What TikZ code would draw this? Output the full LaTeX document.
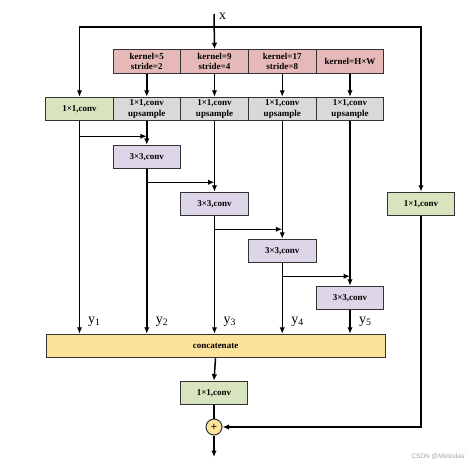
\documentclass[tikz,border=0pt]{standalone}
\usepackage{fontspec}
\setmainfont{Liberation Serif}
\newfontfamily\wmfont{Liberation Sans}
\usetikzlibrary{arrows.meta}
\definecolor{poolcol}{HTML}{E6B9B8}
\definecolor{upcol}{HTML}{D9D9D9}
\definecolor{convcol}{HTML}{D7E4BD}
\definecolor{cvcol}{HTML}{DCD6E8}
\definecolor{catcol}{HTML}{FCE39A}

\begin{document}
\begin{tikzpicture}[x=1pt,y=-1pt,
	box/.style={draw=black!80,line width=1pt,minimum width=67.5pt,minimum height=23.5pt,inner sep=0pt,align=center,font=\bfseries\fontsize{9}{10.5}\selectfont},
	arr/.style={-{Latex[length=6.5pt,width=5.5pt]},line width=1.5pt},
	ylab/.style={anchor=west,inner sep=0pt,font=\fontsize{14}{14}\selectfont}]
\useasboundingbox (0,0) rectangle (474,467);
% input
\coordinate (in) at (214,14);
\node[ylab] (xlab) at (219,16) {x};
\coordinate (split) at (214,27);
% pooling branches
\foreach \txt [count=\i] in {kernel=5\\stride=2, kernel=9\\stride=4, kernel=17\\stride=8, kernel=H×W}{
	\node[box,fill=poolcol] (pool\i) at ({79+67.75*\i},61.5) {\txt};
	\node[box,fill=upcol] (up\i) at ({79+67.75*\i},109) {1×1,conv\\upsample};
	\node[box,fill=cvcol] (cv\i) at ({79+67.75*\i},{157+47*(\i-1)}) {3×3,conv};
	}
\node[box,fill=convcol] (c1) at (79.5,109) {1×1,conv};
\node[box,fill=convcol] (cr) at (421,204) {1×1,conv};
\node[box,fill=catcol,minimum width=339pt] (cat) at (215.5,346) {concatenate};
\node[box,fill=convcol] (cf) at (214,393) {1×1,conv};
\node[draw=black!80,line width=1pt,circle,fill=catcol,minimum size=16pt,inner sep=0pt,font=\bfseries\fontsize{11}{11}\selectfont] (sum) at (214,427) {+};
\coordinate (out) at (214,457);

% connectors
\draw[arr] (in) -- (pool2.north);
\draw[arr] (split) -| (c1.north);
\draw[arr] (split) -| (cr.north);
\foreach \i in {1,...,4}{
	\draw[arr] (pool\i.south) -- (up\i.north);
	\draw[arr] (up\i.south) -- (cv\i.north);
	\draw[arr] (cv\i.south) -- (cv\i.south |- cat.north);
	}
\draw[arr] (c1.south) -- (c1.south |- cat.north);
\draw[arr] ([yshift=-15pt]c1.south) -- ([yshift=-15pt]c1.south -| up1);
\foreach \i [evaluate=\i as \j using int(\i+1)] in {1,2,3}
	\draw[arr] ([yshift=-13pt]cv\i.south) -- ([yshift=-13pt]cv\i.south -| up\j);
\draw[arr] (cat.south) -- (cf.north);
\draw[line width=1.5pt] (cf.south) -- (sum.north);
\draw[arr] (cr.south) |- (sum.east);
\draw[arr] (sum.south) -- (out);

% outputs
\node[ylab] (y1) at (88,322) {y\textsubscript{1}};
\foreach \i [evaluate=\i as \k using int(\i+1)] in {1,...,4}
	\node[ylab] (y\k) at ([xshift=9pt]cv\i.south |- 0,322) {y\textsubscript{\k}};
\node[anchor=east,text=black!35,font=\wmfont\fontsize{6.5}{7}\selectfont] (mark) at (470,457) {CSDN @Meliodas`};
\end{tikzpicture}
\end{document}
